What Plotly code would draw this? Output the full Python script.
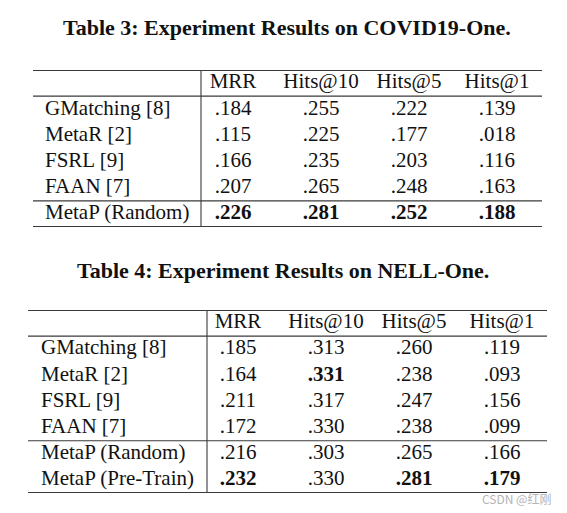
import plotly.graph_objects as go

# ---- data ----
metrics = ["MRR", "Hits@10", "Hits@5", "Hits@1"]

t3_title = "Table 3: Experiment Results on COVID19-One."
t3_methods = ["GMatching [8]", "MetaR [2]", "FSRL [9]", "FAAN [7]", "MetaP (Random)"]
t3_mrr = [0.184, 0.115, 0.166, 0.207, 0.226]
t3_hits10 = [0.255, 0.225, 0.235, 0.265, 0.281]
t3_hits5 = [0.222, 0.177, 0.203, 0.248, 0.252]
t3_hits1 = [0.139, 0.018, 0.116, 0.163, 0.188]
t3_baselines = 4  # rows before the mid rule

t4_title = "Table 4: Experiment Results on NELL-One."
t4_methods = ["GMatching [8]", "MetaR [2]", "FSRL [9]", "FAAN [7]",
              "MetaP (Random)", "MetaP (Pre-Train)"]
t4_mrr = [0.185, 0.164, 0.211, 0.172, 0.216, 0.232]
t4_hits10 = [0.313, 0.331, 0.317, 0.330, 0.303, 0.330]
t4_hits5 = [0.260, 0.238, 0.247, 0.238, 0.265, 0.281]
t4_hits1 = [0.119, 0.093, 0.156, 0.099, 0.166, 0.179]
t4_baselines = 4

watermark = "CSDN @红刚"

# ---- layout (pixels of the 567x513 page) ----
# the page body has an 8px margin, so the figure is a bit smaller and shifted
OFF = 8
W, H = 567 - OFF, 513 - OFF
SERIF = "Liberation Serif"
INK = "#111111"
RULE = "#3a3a3a"
BODY = 21
TITLE = 22

geom = [
    dict(left=33, right=542, top=70, bottom=227, vline=201, label=45,
         first=233, last=497, title_x=287, title_y=27),
    dict(left=28, right=547, top=310, bottom=493, vline=207, label=41,
         first=238, last=502, title_x=283, title_y=270),
]

tables = [
    (t3_title, t3_methods, [t3_mrr, t3_hits10, t3_hits5, t3_hits1], t3_baselines),
    (t4_title, t4_methods, [t4_mrr, t4_hits10, t4_hits5, t4_hits1], t4_baselines),
]


def px(x):
    return (x - OFF) / W


def py(y):
    return 1 - (y - OFF) / H


def fmt(v):
    return f"{v:.3f}".lstrip("0")


fig = go.Figure()
shapes = []
annotations = []

for k, ((title, methods, cols, nbase), g) in enumerate(zip(tables, geom)):
    sfx = "" if k == 0 else str(k + 1)
    xa, ya = "x" + sfx, "y" + sfx
    nrows = len(methods) + 1
    rows = list(range(1, nrows))
    step = (g["last"] - g["first"]) / (len(metrics) - 1)

    # header row
    fig.add_trace(go.Scatter(
        x=list(range(len(metrics))), y=[0] * len(metrics), text=metrics,
        mode="text", textposition="middle center",
        textfont=dict(family=SERIF, size=BODY, color=INK),
        xaxis=xa, yaxis=ya, hoverinfo="skip", showlegend=False))

    # method names
    lx = (g["label"] - g["first"]) / step
    fig.add_trace(go.Scatter(
        x=[lx] * len(methods), y=rows, text=methods,
        mode="text", textposition="middle right",
        textfont=dict(family=SERIF, size=BODY, color=INK),
        xaxis=xa, yaxis=ya, hoverinfo="skip", showlegend=False))

    # values, best of each column in bold
    for i, vals in enumerate(cols):
        best = max(vals)
        txt = [f"<b>{fmt(v)}</b>" if v == best else fmt(v) for v in vals]
        fig.add_trace(go.Scatter(
            x=[i] * len(vals), y=rows, text=txt,
            mode="text", textposition="middle center",
            textfont=dict(family=SERIF, size=BODY, color=INK),
            xaxis=xa, yaxis=ya, hoverinfo="skip", showlegend=False))

    fig.update_layout({
        ("xaxis" + sfx): dict(
            domain=[px(g["left"]), px(g["right"])],
            range=[(g["left"] - g["first"]) / step, (g["right"] - g["first"]) / step],
            visible=False, fixedrange=True, anchor=ya),
        ("yaxis" + sfx): dict(
            domain=[py(g["bottom"]), py(g["top"])],
            range=[nrows - 0.5, -0.5],
            visible=False, fixedrange=True, anchor=xa),
    })

    # booktabs-like rules
    for yv, w in [(-0.5, 1.8), (0.5, 1.1), (nbase + 0.5, 1.1), (nrows - 0.5, 1.8)]:
        shapes.append(dict(type="line", xref=xa + " domain", yref=ya,
                           x0=0, x1=1, y0=yv, y1=yv,
                           line=dict(color=RULE, width=w)))
    vx = (g["vline"] - g["first"]) / step
    shapes.append(dict(type="line", xref=xa, yref=ya + " domain",
                       x0=vx, x1=vx, y0=0, y1=1,
                       line=dict(color=RULE, width=1.1)))

    annotations.append(dict(
        text=f"<b>{title}</b>", xref="paper", yref="paper",
        x=px(g["title_x"]), y=py(g["title_y"]),
        xanchor="center", yanchor="middle", showarrow=False,
        font=dict(family=SERIF, size=TITLE, color=INK)))

annotations.append(dict(
    text=watermark, xref="paper", yref="paper",
    x=px(553), y=py(498), xanchor="right", yanchor="middle",
    showarrow=False,
    font=dict(family="Noto Sans CJK SC", size=12, color="#b4b4b4")))

fig.update_layout(
    width=W, height=H,
    margin=dict(l=0, r=0, t=0, b=0),
    paper_bgcolor="white", plot_bgcolor="white",
    shapes=shapes, annotations=annotations,
)

fig.write_html("out.html")
